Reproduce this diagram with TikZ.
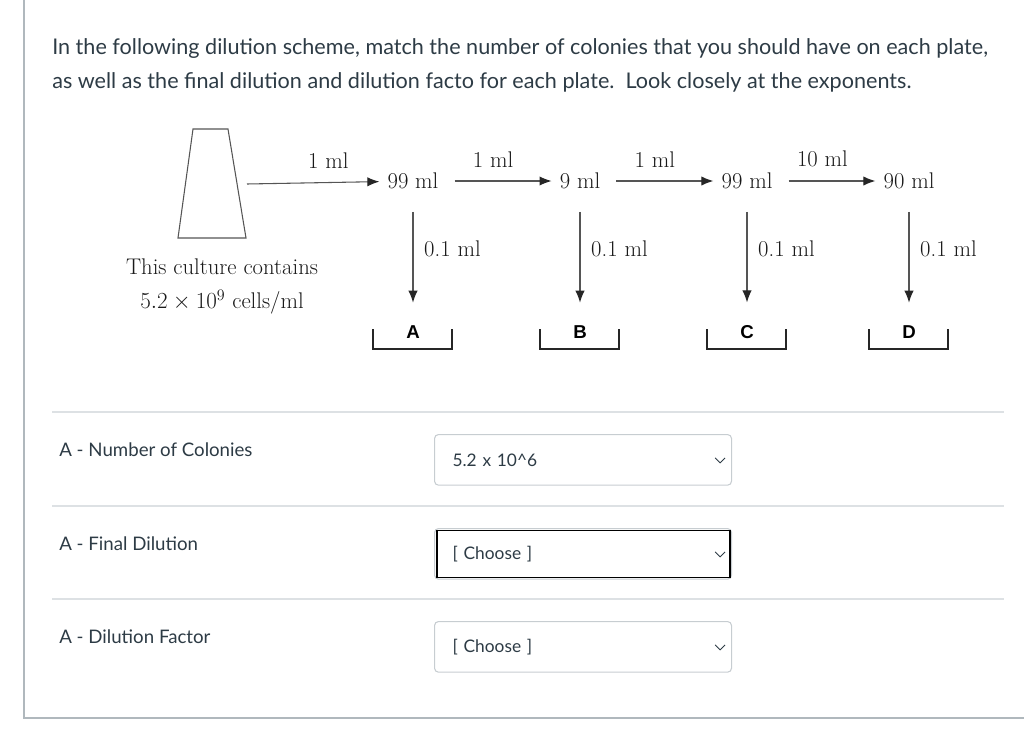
\documentclass[tikz,border=0pt]{standalone}
\usepackage{fontspec}
\newfontfamily\uifont{Lato}
\newfontfamily\platefont{Liberation Sans}
\usetikzlibrary{arrows.meta,positioning,calc}

\definecolor{inkgray}{HTML}{2D3B45}
\definecolor{rulegray}{HTML}{DDE1E4}
\definecolor{boxgray}{HTML}{C7CDD1}
\definecolor{edgegray}{HTML}{B0B8BD}
\definecolor{linegray}{HTML}{555555}

\tikzset{
 vol/.style={font=\fontsize{17}{20}\selectfont, text=black!90, inner sep=0pt},
 uitext/.style={font=\uifont\fontsize{16.2}{19}\selectfont, text=inkgray, inner sep=0pt},
 rowtext/.style={uitext, font=\uifont\fontsize{14}{17}\selectfont},
 flow/.style={draw=linegray, line width=0.8pt, -{Latex[length=9pt,width=7pt,color=black!85]}, shorten >=6pt},
 hflow/.style={flow, shorten <=12pt},
 drop/.style={flow, shorten <=17pt, shorten >=17pt},
 dish/.style={font=\platefont\bfseries\fontsize{14}{16}\selectfont, inner sep=0pt},
 dishwall/.style={draw=black!85, line width=1.6pt},
 select/.style={draw=boxgray, line width=0.8pt, rounded corners=3pt, anchor=north west,
  text width=195.75pt, inner xsep=13.5pt, minimum height=38pt, align=left,
  font=\uifont\fontsize{13}{16}\selectfont, text=inkgray},
 chevron/.style={draw=inkgray, line width=0.6pt}
}

\begin{document}
\begin{tikzpicture}[x=0.75pt, y=-0.75pt]
\useasboundingbox (0,0) rectangle (1024,746);

% page frame
\draw[edgegray, line width=0.8pt] (24,0) -- (24,718) -- (1024,718);

% question text
\node[uitext, anchor=west] (q1) at (52,49) {In the following dilution scheme, match the number of colonies that you should have on each plate,};
\node[uitext, anchor=west] (q2) at (52,82) {as well as the final dilution and dilution facto for each plate.\ \ Look closely at the exponents.};

% culture flask
\draw[draw=linegray, line width=0.8pt] (193,129) -- (228,129) -- (246,238) -- (178,238) -- cycle;
\coordinate (src) at (247,184);
\node[vol] (cult1) at (222,267) {This culture contains};
\node[vol] (cult2) at (222,302) {$5.2 \times 10^9$ cells/ml};

% tubes, drops and plates
\foreach \n/\x/\v/\p in {1/413/99 ml/A, 2/580/9 ml/B, 3/747/99 ml/C, 4/909/90 ml/D}
{
 \node[vol] (t\n) at (\x,181) {\v};
 \node[dish] (p\n) at (\x,332) {\p};
 \draw[dishwall] ($(p\n)+(-40,-3)$) -- ($(p\n)+(-40,17)$) -- ($(p\n)+(39,17)$) -- ($(p\n)+(39,-3)$);
 \draw[drop] (t\n) -- node[vol, right=8pt, pos=0.44] {0.1 ml} (t\n |- p\n.north);
}

\draw[flow] (src) -- node[vol, above=10pt, pos=0.58] {1 ml} (t1);
\draw[hflow] (t1) -- node[vol, above=10pt, pos=0.45] {1 ml} (t2);
\draw[hflow] (t2) -- node[vol, above=10pt, pos=0.45] {1 ml} (t3);
\draw[hflow] (t3) -- node[vol, above=10pt, pos=0.45] {10 ml} (t4);

% answer rows
\foreach \y in {412, 506, 599}
 \draw[rulegray, line width=0.8pt] (52,\y) -- (1004,\y);

\node[rowtext, anchor=west] (lab1) at (59,450) {A - Number of Colonies};
\node[rowtext, anchor=west] (lab2) at (59,544) {A - Final Dilution};
\node[rowtext, anchor=west] (lab3) at (59,637) {A - Dilution Factor};

\node[select] (sel1) at (434,434) {5.2 x 10\textasciicircum6};
\node[select] (sel2) at (434,528) {[ Choose ]};
\node[select] (sel3) at (434,621) {[ Choose ]};
\draw[black, line width=1pt] ($(sel2.north west)+(3,2.5)$) rectangle ($(sel2.south east)+(-2,-2)$);

\foreach \s in {1,2,3}
 \draw[chevron] ($(sel\s.east)+(-17,-2)$) -- ++(5,5) -- ++(5,-5);
\end{tikzpicture}
\end{document}
